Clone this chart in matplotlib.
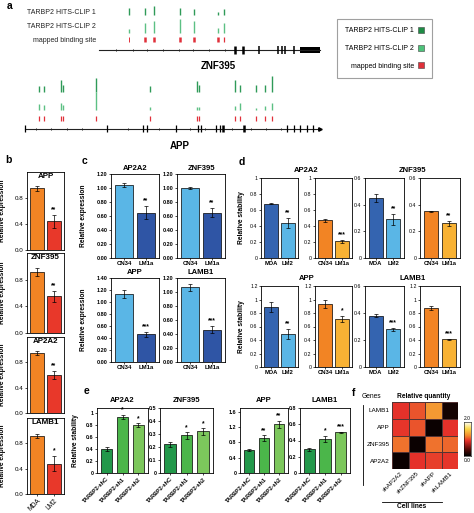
import matplotlib
matplotlib.use("Agg")
import matplotlib.pyplot as plt
import numpy as np
from matplotlib.lines import Line2D
from matplotlib.colors import LinearSegmentedColormap

plt.rcParams['font.family'] = ['Liberation Sans', 'DejaVu Sans']

W, H = 474, 513

# ---------------- data ----------------
# a: gene tracks, positions along the drawn gene (arbitrary units)
znf_len = 224
znf_sites = [30, 47, 56, 82, 96, 121, 127]
znf_clip1 = [7, 7, 9, 7, 6, 3, 6]
znf_clip2 = [4, 10, 12, 14, 12, 5, 10]
znf_site_w = [0.7, 1.8, 1.8, 1.8, 1.8, 1.8, 0.9]
znf_small = [17, 34, 49, 65, 81, 95, 111, 128]
znf_exons = [138, 146, 162, 181, 185, 189, 198]
znf_exon_w = [1.8, 1.8, 1.1, 1.1, 1.1, 1.1, 1.1]
znf_last = (204, 224)

app_len = 298
app_sites = [14, 19, 36, 38, 72, 126, 174, 176, 212, 217, 233, 242, 249]
app_clip1 = [6, 6, 12, 7, 14, 6, 11, 7, 12, 7, 7, 7, 16]
app_clip2 = [6, 5, 7, 5, 18, 3, 3, 3, 4, 7, 2, 4, 7]
app_small = [11, 26, 42, 58, 104, 135, 167, 182, 209, 228, 243, 259]
app_exons = [0, 83, 119, 123, 153, 175, 178, 193, 197, 200, 221, 265, 272, 278, 285, 291]
app_exon_w = [0.9, 0.9, 0.9, 0.9, 0.9, 0.9, 0.9, 0.9, 0.9, 1.8, 1.8, 0.9, 0.9, 0.9, 0.9, 0.9]

track_names = ["TARBP2 HITS-CLIP 1", "TARBP2 HITS-CLIP 2", "mapped binding site"]

# b: relative expression MDA vs LM2
b_genes = ["APP", "ZNF395", "AP2A2", "LAMB1"]
b_groups = ["MDA", "LM2"]
b_vals = [[0.95, 0.44], [0.92, 0.55], [0.95, 0.60], [0.92, 0.48]]
b_errs = [[0.04, 0.10], [0.06, 0.08], [0.03, 0.06], [0.03, 0.12]]
b_stars = ["**", "**", "**", "*"]

# c: relative expression CN34 vs LM1a
c_genes = ["AP2A2", "ZNF395", "APP", "LAMB1"]
c_groups = ["CN34", "LM1a"]
c_vals = [[1.04, 0.65], [1.00, 0.65], [1.13, 0.46], [1.07, 0.46]]
c_errs = [[0.03, 0.09], [0.02, 0.06], [0.07, 0.04], [0.05, 0.05]]
c_stars = ["**", "**", "***", "***"]
c_ymax = [1.2, 1.2, 1.4, 1.2]

# d: relative stability
d_genes = ["AP2A2", "ZNF395", "APP", "LAMB1"]
d_mda = [[0.68, 0.44], [0.45, 0.29], [0.89, 0.49], [0.38, 0.28]]
d_mda_err = [[0.01, 0.06], [0.03, 0.04], [0.07, 0.07], [0.01, 0.01]]
d_mda_stars = ["**", "**", "**", "***"]
d_cn = [[0.47, 0.21], [0.35, 0.26], [0.93, 0.71], [0.87, 0.41]]
d_cn_err = [[0.02, 0.02], [0.005, 0.02], [0.06, 0.05], [0.03, 0.01]]
d_cn_stars = ["***", "**", "*", "***"]
d_mda_ymax = [1.0, 0.6, 1.2, 0.6]
d_cn_ymax = [1.0, 0.6, 1.2, 1.2]

# e: relative stability after TARBP2 knockdown
e_genes = ["AP2A2", "ZNF395", "APP", "LAMB1"]
e_groups = ["TARBP2-shC", "TARBP2-sh1", "TARBP2-sh2"]
e_vals = [[0.40, 0.93, 0.80], [0.22, 0.29, 0.32], [0.60, 0.92, 1.27], [0.29, 0.42, 0.50]]
e_errs = [[0.03, 0.04, 0.03], [0.02, 0.025, 0.025], [0.03, 0.07, 0.10], [0.02, 0.04, 0.005]]
e_stars = [["", "*", "*"], ["", "*", "*"], ["", "**", "**"], ["", "*", "***"]]
e_ymax = [1.08, 0.5, 1.7, 0.8]
e_step = [0.2, 0.1, 0.4, 0.2]

# f: heatmap
f_genes = ["LAMB1", "APP", "ZNF395", "AP2A2"]
f_lines = ["shAP2A2", "shZNF395", "shAPP", "shLAMB1"]
f_vals = [[0.90, 1.02, 1.28, 0.10],
          [0.92, 1.02, 0.05, 0.90],
          [1.12, 0.05, 1.12, 1.08],
          [0.05, 0.90, 0.95, 0.92]]

# ---------------- colours ----------------
c_clip1 = "#2f9a58"
c_clip2 = "#5cc084"
c_site = "#e0303a"
c_orange = "#f28424"
c_red = "#e8382a"
c_lblue = "#5ab6e6"
c_dblue = "#2f55a5"
c_mblue = "#3464b0"
c_yel = "#f8b234"
c_g = ["#22984a", "#4bb64a", "#7cc75c"]
heat = LinearSegmentedColormap.from_list(
    "heat", [(0, "#000000"), (0.2, "#5a0c08"), (0.45, "#e5302a"),
             (0.6, "#f28a2e"), (0.8, "#fbd848"), (1, "#fffff4")])

fig = plt.figure(figsize=(W / 100, H / 100), dpi=100)


def box(x0, y0, x1, y1):
    return fig.add_axes([x0 / W, 1 - y1 / H, (x1 - x0) / W, (y1 - y0) / H])


def style(ax, size=4.2):
    for s in ax.spines.values():
        s.set_linewidth(0.6)
    ax.tick_params(labelsize=size, length=1.5, width=0.5, pad=1)


def bars(ax, vals, errs, cols, stars, ymax, ticks, fmt, width=0.8, size=4.2):
    x = np.arange(len(vals))
    ax.bar(x, vals, width=width, color=cols, edgecolor="black", linewidth=0.5, zorder=2)
    ax.errorbar(x, vals, yerr=errs, fmt="none", ecolor="black", elinewidth=0.5,
                capsize=1.2, capthick=0.5, zorder=3)
    for xi, v, e, s in zip(x, vals, errs, stars):
        if s:
            ax.text(xi, v + e + ymax * 0.02, s, ha="center", va="bottom",
                    fontsize=4.8, fontweight="bold", clip_on=False)
    ax.set_xlim(-0.6, len(vals) - 0.4)
    ax.set_ylim(0, ymax)
    ax.set_yticks(ticks)
    ax.set_yticklabels([fmt(t) for t in ticks])
    ax.set_xticks(x)
    style(ax, size)


def letter(x, y, s):
    fig.text(x / W, 1 - y / H, s, fontsize=7.5, fontweight="bold", ha="left", va="center")


# ---------------- a ----------------
def track(ax, sites, h1, h2, small, exons, exw, length, base1, base2, site_w=None):
    ax.vlines(sites, base1, np.array(base1) + np.array(h1), color=c_clip1, lw=1.0)
    ax.vlines(sites, base2, np.array(base2) + np.array(h2), color=c_clip2, lw=1.0)
    if site_w is None:
        site_w = [0.9] * len(sites)
    ax.vlines(sites, 14, 19, color=c_site, lw=site_w)
    ax.plot([0, length], [6, 6], color="#222222", lw=0.8)
    ax.vlines(small, 5, 7, color="#222222", lw=0.7)
    ax.vlines(exons, 2.5, 9.5, color="black", lw=exw)
    ax.set_xlim(-1, length + 2)
    ax.axis("off")


ax = box(98, 3, 322, 56)
ax.set_ylim(0, 53)
track(ax, znf_sites, znf_clip1, znf_clip2, znf_small, znf_exons, znf_exon_w,
      znf_len, 41, 23, znf_site_w)
ax.barh(6, znf_last[1] - znf_last[0], left=znf_last[0], height=5, color="black")
for name, y in zip(track_names, [13, 26, 40]):
    fig.text(96 / W, 1 - y / H, name, fontsize=5, ha="right", va="center", color="#222222")
fig.text(218 / W, 1 - 66 / H, "ZNF395", fontsize=7, fontweight="bold", ha="center", va="center")

ax = box(24, 75, 322, 135)
ax.set_ylim(0, 60)
track(ax, app_sites, app_clip1, app_clip2, app_small, app_exons, app_exon_w,
      app_len, 43, 25)
ax.plot([app_len], [6], marker=">", color="black", ms=2.5)
fig.text(180 / W, 1 - 146 / H, "APP", fontsize=7, fontweight="bold", ha="center", va="center")

handles = [Line2D([], [], ls="none", marker="s", ms=4.2, mfc=c, mec="#444444", mew=0.4)
           for c in ["#1e8c45", "#4dc27a", c_site]]
leg = fig.legend(handles, track_names, loc="upper left", bbox_to_anchor=(337 / W, 1 - 19 / H),
                 markerfirst=False, fontsize=5, frameon=True, fancybox=False,
                 edgecolor="#888888", handlelength=0.8, handletextpad=0.6,
                 labelspacing=1.55, borderpad=1.2, borderaxespad=0)
leg.get_frame().set_linewidth(0.8)
letter(7, 6, "a")

# ---------------- b ----------------
letter(5, 160, "b")
b_boxes = [(172, 250), (253, 333), (337, 413), (418, 494)]
for i, g in enumerate(b_genes):
    y0, y1 = b_boxes[i]
    ax = box(27, y0, 64, y1)
    bars(ax, b_vals[i], b_errs[i], [c_orange, c_red], ["", b_stars[i]], 1.2,
         [0, 0.4, 0.8], lambda t: "%.1f" % t, width=0.8, size=4.5)
    ax.text(0.5, 0.985, g, transform=ax.transAxes, ha="center", va="top",
            fontsize=5.8, fontweight="bold")
    ax.set_ylabel("Relative expression", fontsize=4.8, fontweight="bold")
    ax.yaxis.set_label_coords(-0.56, 0.5)
    if i < 3:
        ax.set_xticks([])
    else:
        ax.set_xticklabels(b_groups, rotation=45, ha="right", rotation_mode="anchor", fontsize=4.8)

# ---------------- c ----------------
letter(82, 161, "c")
c_boxes = [(111, 174, 159, 258), (177, 174, 225, 258), (111, 278, 159, 362), (177, 278, 225, 362)]
for i, g in enumerate(c_genes):
    ax = box(*c_boxes[i])
    ticks = np.round(np.arange(0, c_ymax[i] + 0.01, 0.2), 2)
    bars(ax, c_vals[i], c_errs[i], [c_lblue, c_dblue], ["", c_stars[i]], c_ymax[i],
         ticks, lambda t: "%.2f" % t, size=4.0)
    ax.set_title(g, fontsize=5.5, fontweight="bold", pad=3)
    ax.set_xticklabels(c_groups, fontsize=4.3, fontweight="bold")
    for t in ax.get_yticklabels():
        t.set_fontweight("bold")
    if i % 2 == 0:
        ax.set_ylabel("Relative expression", fontsize=4.8, fontweight="bold")
        ax.yaxis.set_label_coords(-0.5, 0.5)

# ---------------- d ----------------
letter(239, 162, "d")
d_x = [(261, 298), (315, 352), (365, 404), (420, 460)]
d_y = [(178, 258), (286, 367)]
for i, g in enumerate(d_genes):
    row = i // 2
    pair = i % 2
    ya, yb = d_y[row]
    for k in range(2):
        xa, xb = d_x[pair * 2 + k]
        ax = box(xa, ya, xb, yb)
        if k == 0:
            vals, errs, st, ym = d_mda[i], d_mda_err[i], d_mda_stars[i], d_mda_ymax[i]
            cols, labs = [c_mblue, c_lblue], ["MDA", "LM2"]
        else:
            vals, errs, st, ym = d_cn[i], d_cn_err[i], d_cn_stars[i], d_cn_ymax[i]
            cols, labs = [c_orange, c_yel], ["CN34", "LM1a"]
        ticks = np.round(np.arange(0, ym + 0.01, 0.2), 2)
        bars(ax, vals, errs, cols, ["", st], ym, ticks, lambda t: "%g" % t, size=3.8)
        ax.set_xticklabels(labs, fontsize=4.2, fontweight="bold")
        if pair == 0 and k == 0:
            ax.set_ylabel("Relative stability", fontsize=4.8, fontweight="bold")
            ax.yaxis.set_label_coords(-0.42, 0.5)
    xc = (d_x[pair * 2][0] + d_x[pair * 2 + 1][1]) / 2
    fig.text(xc / W, 1 - (ya - 8) / H, g, fontsize=5.5, fontweight="bold", ha="center", va="center")

# ---------------- e ----------------
letter(84, 391, "e")
e_x = [(97, 148), (160, 213), (240, 288), (300, 350)]
for i, g in enumerate(e_genes):
    ax = box(e_x[i][0], 408, e_x[i][1], 473)
    ticks = np.round(np.arange(0, e_ymax[i] + 0.001, e_step[i]), 2)
    ticks = ticks[ticks <= e_ymax[i]]
    bars(ax, e_vals[i], e_errs[i], c_g, e_stars[i], e_ymax[i], ticks,
         lambda t: "%g" % t, width=0.72, size=3.9)
    ax.set_title(g, fontsize=5.5, fontweight="bold", pad=4)
    ax.set_xticklabels(e_groups, rotation=45, ha="right", rotation_mode="anchor",
                       fontsize=4.0, fontweight="bold")
    for t in ax.get_yticklabels():
        t.set_fontweight("bold")
    if i == 0:
        ax.set_ylabel("Relative stability", fontsize=4.8, fontweight="bold")
        ax.yaxis.set_label_coords(-0.36, 0.5)

# ---------------- f ----------------
letter(352, 393, "f")
ax = box(392, 402, 458, 469)
ax.pcolormesh(np.array(f_vals)[::-1], cmap=heat, vmin=0, vmax=2,
              edgecolors="#553333", linewidth=0.4)
ax.set_xticks(np.arange(4) + 0.5)
ax.set_xticklabels(f_lines, rotation=45, ha="right", rotation_mode="anchor", fontsize=4.5)
ax.set_yticks(np.arange(4) + 0.5)
ax.set_yticklabels(f_genes[::-1], fontsize=4.6)
ax.tick_params(length=0, pad=1.5)
for s in ax.spines.values():
    s.set_visible(False)

cax = box(464, 422, 471, 456)
cax.imshow(np.linspace(2, 0, 100)[:, None], cmap=heat, vmin=0, vmax=2, aspect="auto")
cax.set_xticks([])
cax.set_yticks([])
for s in cax.spines.values():
    s.set_linewidth(0.4)
fig.text(467.5 / W, 1 - 418 / H, "2.0", fontsize=3.5, ha="center", va="center")
fig.text(467.5 / W, 1 - 460 / H, "0.0", fontsize=3.5, ha="center", va="center")

fig.text(362 / W, 1 - 397 / H, "Genes", fontsize=4.8, ha="left", va="center")
fig.text(424 / W, 1 - 397 / H, "Relative quantity", fontsize=4.8, fontweight="bold",
         ha="center", va="center")
fig.text(412 / W, 1 - 507 / H, "Cell lines", fontsize=4.8, fontweight="bold",
         ha="center", va="center")
fig.add_artist(Line2D([363 / W, 363 / W], [1 - 405 / H, 1 - 485 / H], color="black", lw=0.6))
fig.add_artist(Line2D([382 / W, 442 / W], [1 - 502 / H, 1 - 502 / H], color="black", lw=0.6))

fig.savefig("out.png", dpi=100)
